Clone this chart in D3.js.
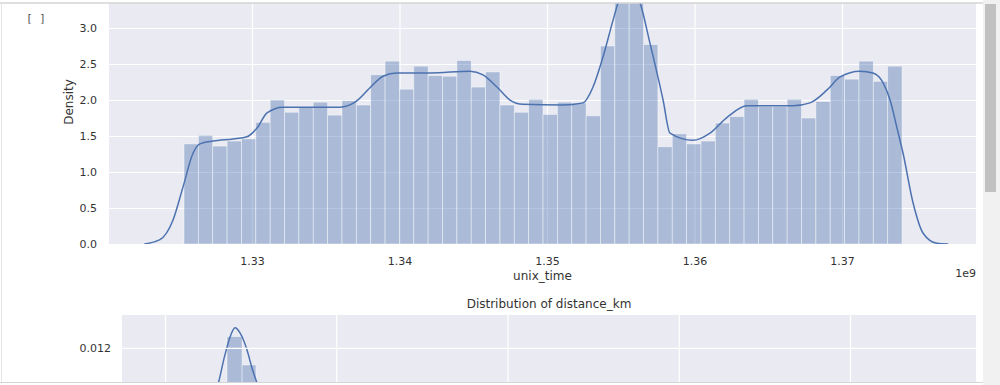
<!DOCTYPE html>
<html>

<head>
    <style>
        body {
            margin: 0;
            background: #fff;
        }

        svg {
            font-family: "DejaVu Sans", sans-serif;
            display: block;
        }

        .axis text {
            fill: #333;
            font-size: 11px;
            font-family: "DejaVu Sans", sans-serif;
        }

        .axis line {
            stroke: #fff;
            stroke-width: 1.2px;
        }

        .axis path {
            display: none;
        }

        .bar {
            fill: #4c72b0;
            fill-opacity: 0.4;
            stroke: #fff;
            stroke-opacity: 0.55;
            stroke-width: 0.8px;
        }

        .kde {
            fill: none;
            stroke: #4c72b0;
            stroke-width: 1.5px;
        }

        .label {
            fill: #333;
            font-size: 12px;
        }
    </style>
    <script src="https://cdn.jsdelivr.net/npm/d3@7"></script>

    <title>Distributions</title>
</head>

<body>
    <div id="myGraph"></div>
</body>


</html>

<script>
    // ---- unix_time (x in units of 1e9) ----
    var timeBinStart = 1.32539,
        timeBinEnd = 1.37407;

    var timeDensity = [
        1.39, 1.51, 1.36, 1.43, 1.46, 1.69, 2.00, 1.83, 1.90, 1.97,
        1.79, 1.99, 1.93, 2.35, 2.54, 2.15, 2.47, 2.34, 2.33, 2.55,
        2.18, 2.39, 1.93, 1.83, 2.01, 1.80, 1.97, 1.96, 1.78, 2.75,
        3.62, 3.58, 2.77, 1.35, 1.53, 1.39, 1.43, 1.68, 1.77, 2.01,
        1.91, 1.91, 2.01, 1.75, 1.98, 2.34, 2.29, 2.54, 2.26, 2.47
    ];

    var timeKdeX = [
        1.3227, 1.32376, 1.32464, 1.32532, 1.32600, 1.32647, 1.32736, 1.32871, 1.32966, 1.33034,
        1.33102, 1.33210, 1.33597, 1.33698, 1.33800, 1.33888, 1.33983, 1.34207, 1.34478, 1.34566,
        1.34661, 1.34749, 1.34837, 1.35109, 1.35244, 1.35312, 1.35380, 1.35448, 1.35482, 1.35549,
        1.35631, 1.35698, 1.35787, 1.35834, 1.35990, 1.36105, 1.36221, 1.36356, 1.36668, 1.36783,
        1.36899, 1.36987, 1.37122, 1.37210, 1.37278, 1.37326, 1.37373, 1.37414, 1.37482, 1.37550,
        1.37644, 1.37720
    ];
    var timeKdeY = [
        0.00, 0.06, 0.33, 0.79, 1.26, 1.39, 1.43, 1.46, 1.49, 1.61,
        1.82, 1.90, 1.90, 1.97, 2.17, 2.33, 2.375, 2.375, 2.40, 2.35,
        2.18, 2.00, 1.94, 1.93, 1.96, 2.18, 2.60, 3.11, 3.35, 3.62,
        3.35, 2.79, 2.00, 1.54, 1.44, 1.54, 1.76, 1.92, 1.92, 1.96,
        2.14, 2.32, 2.40, 2.375, 2.24, 2.00, 1.61, 1.26, 0.57, 0.15,
        0.01, 0.00
    ];

    var timeXTicks = [1.33, 1.34, 1.35, 1.36, 1.37],
        timeYTicks = [0, 0.5, 1.0, 1.5, 2.0, 2.5, 3.0];

    // ---- distance_km ----
    var distBinEdges = [27.5, 36.2, 45.0, 53.1, 61.6];
    var distDensity = [0.0060, 0.0126, 0.0111, 0.0040];

    var distKdeX = [22.0, 27.4, 30.9, 35.0, 38.0, 40.9, 43.8, 47.9, 50.8, 53.7, 56.6, 62.0];
    var distKdeY = [0.0070, 0.0090, 0.01004, 0.01163, 0.01258, 0.01306, 0.01279, 0.01189, 0.01094, 0.01015, 0.0093, 0.0075];

    var distXTicks = [0, 100, 200, 300, 400],
        distYTicks = [0.002, 0.004, 0.006, 0.008, 0.010, 0.012];

    var svg = d3.select("#myGraph").append("svg")
        .attr("width", 1000)
        .attr("height", 385);

    // ================= top plot =================
    var p1 = { left: 109, right: 976, top: 0, bottom: 244 };

    var x = d3.scaleLinear()
        .domain([1.320305, 1.379085])
        .range([p1.left, p1.right]);

    var y = d3.scaleLinear()
        .domain([0, 3.389])
        .range([p1.bottom, p1.top]);

    svg.append("defs").append("clipPath")
        .attr("id", "clip1")
        .append("rect")
        .attr("x", p1.left)
        .attr("y", p1.top)
        .attr("width", p1.right - p1.left)
        .attr("height", p1.bottom - p1.top);

    svg.append("rect")
        .attr("x", p1.left)
        .attr("y", p1.top)
        .attr("width", p1.right - p1.left)
        .attr("height", p1.bottom - p1.top)
        .attr("fill", "#eaeaf2");

    svg.append("g")
        .attr("class", "axis")
        .attr("transform", "translate(0," + p1.bottom + ")")
        .call(d3.axisBottom(x).tickValues(timeXTicks)
            .tickSize(-(p1.bottom - p1.top)).tickPadding(13)
            .tickFormat(d3.format(".2f")));

    svg.append("g")
        .attr("class", "axis")
        .attr("transform", "translate(" + p1.left + ",0)")
        .call(d3.axisLeft(y).tickValues(timeYTicks)
            .tickSize(-(p1.right - p1.left)).tickPadding(12)
            .tickFormat(d3.format(".1f")));

    var binW = (timeBinEnd - timeBinStart) / timeDensity.length;

    var g1 = svg.append("g").attr("clip-path", "url(#clip1)");

    g1.selectAll(".bar")
        .data(timeDensity)
        .enter().append("rect")
        .attr("class", "bar")
        .attr("x", function (d, i) { return x(timeBinStart + i * binW); })
        .attr("width", function (d, i) { return x(timeBinStart + (i + 1) * binW) - x(timeBinStart + i * binW); })
        .attr("y", function (d) { return y(d); })
        .attr("height", function (d) { return y(0) - y(d); });

    var line1 = d3.line()
        .curve(d3.curveMonotoneX)
        .x(function (d, i) { return x(timeKdeX[i]); })
        .y(function (d) { return y(d); });

    g1.append("path")
        .datum(timeKdeY)
        .attr("class", "kde")
        .attr("d", line1);

    svg.append("text")
        .attr("class", "label")
        .attr("text-anchor", "middle")
        .attr("transform", "translate(73," + (p1.bottom - 142) + ") rotate(-90)")
        .text("Density");

    svg.append("text")
        .attr("class", "label")
        .attr("text-anchor", "middle")
        .attr("x", (p1.left + p1.right) / 2)
        .attr("y", 280)
        .text("unix_time");

    svg.append("text")
        .attr("class", "label")
        .attr("text-anchor", "end")
        .attr("x", p1.right)
        .attr("y", 277)
        .style("font-size", "11px")
        .text("1e9");

    // ================= second plot =================
    var p2 = { left: 122, right: 976, top: 315, bottom: 382 };

    var x2 = d3.scaleLinear()
        .domain([-25.11, 473.58])
        .range([p2.left, p2.right]);

    var y2 = d3.scaleLinear()
        .domain([0, 0.01374])
        .range([575, p2.top]);

    svg.select("defs").append("clipPath")
        .attr("id", "clip2")
        .append("rect")
        .attr("x", p2.left)
        .attr("y", p2.top)
        .attr("width", p2.right - p2.left)
        .attr("height", p2.bottom - p2.top);

    svg.append("rect")
        .attr("x", p2.left)
        .attr("y", p2.top)
        .attr("width", p2.right - p2.left)
        .attr("height", p2.bottom - p2.top)
        .attr("fill", "#eaeaf2");

    var g2 = svg.append("g").attr("clip-path", "url(#clip2)");

    g2.append("g")
        .attr("class", "axis")
        .attr("transform", "translate(0," + p2.bottom + ")")
        .call(d3.axisBottom(x2).tickValues(distXTicks)
            .tickSize(-(p2.bottom - p2.top)).tickFormat(""));

    // only the ticks that fall inside the visible part of the axes
    var visibleDistYTicks = distYTicks.filter(function (d) { return y2(d) <= p2.bottom; });

    svg.append("g")
        .attr("class", "axis")
        .attr("transform", "translate(" + p2.left + ",0)")
        .call(d3.axisLeft(y2).tickValues(visibleDistYTicks)
            .tickSize(-(p2.right - p2.left)).tickPadding(11)
            .tickFormat(d3.format(".3f")));

    g2.selectAll(".bar")
        .data(distDensity)
        .enter().append("rect")
        .attr("class", "bar")
        .attr("x", function (d, i) { return x2(distBinEdges[i]); })
        .attr("width", function (d, i) { return x2(distBinEdges[i + 1]) - x2(distBinEdges[i]); })
        .attr("y", function (d) { return y2(d); })
        .attr("height", function (d) { return y2(0) - y2(d); });

    var line2 = d3.line()
        .curve(d3.curveMonotoneX)
        .x(function (d, i) { return x2(distKdeX[i]); })
        .y(function (d) { return y2(d); });

    g2.append("path")
        .datum(distKdeY)
        .attr("class", "kde")
        .attr("d", line2);

    svg.append("text")
        .attr("class", "label")
        .attr("text-anchor", "middle")
        .attr("x", (p2.left + p2.right) / 2)
        .attr("y", 308)
        .text("Distribution of distance_km");

    // ================= notebook chrome =================
    svg.append("rect")
        .attr("x", 0).attr("y", 0)
        .attr("width", 1000).attr("height", 3)
        .attr("fill", "#fff");
    svg.append("line")
        .attr("x1", 0).attr("x2", 983)
        .attr("y1", 3).attr("y2", 3)
        .attr("stroke", "#d5d5d5")
        .attr("stroke-width", 1.5);
    svg.append("line")
        .attr("x1", 0).attr("x2", 983)
        .attr("y1", 382.5).attr("y2", 382.5)
        .attr("stroke", "#d5d5d5");
    svg.append("line")
        .attr("x1", 1.5).attr("x2", 1.5)
        .attr("y1", 3).attr("y2", 382)
        .attr("stroke", "#e6e6e6");

    svg.append("text")
        .attr("x", 26)
        .attr("y", 22)
        .attr("fill", "#555")
        .style("font-family", "'DejaVu Sans Mono', monospace")
        .style("font-size", "11px")
        .text("[ ]");

    // scrollbar
    svg.append("rect")
        .attr("x", 983).attr("y", 0)
        .attr("width", 17).attr("height", 385)
        .attr("fill", "#f1f1f1");
    svg.append("rect")
        .attr("x", 985).attr("y", 4)
        .attr("width", 11).attr("height", 188)
        .attr("fill", "#c1c1c1");
</script>
